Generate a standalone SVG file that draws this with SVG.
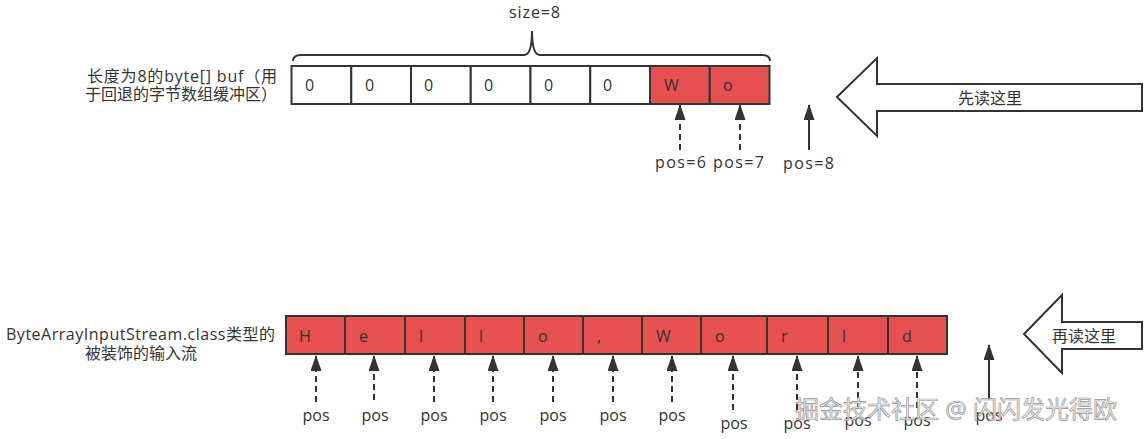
<svg xmlns="http://www.w3.org/2000/svg" width="1147" height="439" viewBox="0 0 1147 439">
<style>
text{font-family:"Open Sans","Noto Sans CJK SC",sans-serif;fill:#333;font-size:16px}
.c{stroke:#333;stroke-width:2;fill:#fff}
.r{stroke:#333;stroke-width:2;fill:#e65050}
.d{stroke:#333;stroke-width:2;stroke-dasharray:6 4;fill:none}
.s{stroke:#333;stroke-width:2;fill:none}
.m{text-anchor:middle}
.big{stroke:#333;stroke-width:2;fill:#fff}
.wm{font-size:24px;fill:#ececec;stroke:#8c8c8c;stroke-width:0.7;opacity:0.9}
</style>
<defs>
<marker id="ah" markerUnits="userSpaceOnUse" markerWidth="16" markerHeight="11" viewBox="0 0 16 11" refX="15" refY="5.5" orient="auto">
<path d="M0,0 L16,5.5 L0,11 z" fill="#333"/>
</marker>
</defs>
<rect width="1147" height="439" fill="#fff"/>

<g id="buf-label">
<text class="m" x="182" y="82" textLength="190" lengthAdjust="spacing">长度为8的byte[] buf（用</text>
<text class="m" x="181" y="100">于回退的字节数组缓冲区）</text>
</g>
<g id="size-brace">
<path class="s" d="M293,61 Q293,55 301,55 L524,55 Q532,55 532,31 Q532,55 540,55 L762,55 Q770,55 770,61" stroke-width="1.6"/>
<text class="m" x="534.5" y="18" textLength="51" lengthAdjust="spacing">size=8</text>
</g>
<g id="buf">
<rect class="c" x="291.5" y="66" width="59.75" height="38"/>
<rect class="c" x="351.25" y="66" width="59.75" height="38"/>
<rect class="c" x="411" y="66" width="59.75" height="38"/>
<rect class="c" x="470.75" y="66" width="59.75" height="38"/>
<rect class="c" x="530.5" y="66" width="59.75" height="38"/>
<rect class="c" x="590.25" y="66" width="59.75" height="38"/>
<rect class="r" x="650" y="66" width="59.75" height="38"/>
<rect class="r" x="709.75" y="66" width="59.75" height="38"/>
<text x="305" y="91">0</text>
<text x="365" y="91">0</text>
<text x="424" y="91">0</text>
<text x="484" y="91">0</text>
<text x="544" y="91">0</text>
<text x="603" y="91">0</text>
<text x="664" y="91">W</text>
<text x="723" y="91">o</text>
</g>
<g id="read-first">
<path class="big" d="M837,97 L877,58 L877,84 L1142,84 L1142,111 L877,111 L877,136 Z"/>
<text class="m" x="990" y="104">先读这里</text>
</g>

<g id="stream-label">
<text class="m" x="140.5" y="340" textLength="269" lengthAdjust="spacing">ByteArrayInputStream.class类型的</text>
<text class="m" x="141" y="359">被装饰的输入流</text>
</g>
<g id="stream">
<rect class="r" x="286" y="316" width="59" height="38"/>
<rect class="r" x="345" y="316" width="60" height="38"/>
<rect class="r" x="405" y="316" width="60" height="38"/>
<rect class="r" x="465" y="316" width="59" height="38"/>
<rect class="r" x="524" y="316" width="59" height="38"/>
<rect class="r" x="583" y="316" width="59" height="38"/>
<rect class="r" x="642" y="316" width="59" height="38"/>
<rect class="r" x="701" y="316" width="66" height="38"/>
<rect class="r" x="767" y="316" width="61" height="38"/>
<rect class="r" x="828" y="316" width="60" height="38"/>
<rect class="r" x="888" y="316" width="59" height="38"/>
<text x="299" y="342">H</text>
<text x="359" y="342">e</text>
<text x="419" y="342">l</text>
<text x="479" y="342">l</text>
<text x="538" y="342">o</text>
<text x="597" y="342">,</text>
<text x="656" y="342">W</text>
<text x="715" y="342">o</text>
<text x="781" y="342">r</text>
<text x="842" y="342">l</text>
<text x="902" y="342">d</text>
</g>
<g id="read-next">
<path class="big" d="M1024,334 L1062,295 L1062,322 L1142,322 L1142,349 L1062,349 L1062,373 Z"/>
<text class="m" x="1084" y="342">再读这里</text>
</g>

<g id="connectors">
<line class="d" x1="680" y1="150" x2="680" y2="105" marker-end="url(#ah)"/>
<line class="d" x1="740" y1="150" x2="740" y2="105" marker-end="url(#ah)"/>
<line class="s" x1="809" y1="150" x2="809" y2="105" marker-end="url(#ah)"/>
<line class="d" x1="316" y1="402" x2="316" y2="356" marker-end="url(#ah)"/>
<line class="d" x1="374" y1="400" x2="374" y2="356" marker-end="url(#ah)"/>
<line class="d" x1="434" y1="402" x2="434" y2="356" marker-end="url(#ah)"/>
<line class="d" x1="493" y1="402" x2="493" y2="356" marker-end="url(#ah)"/>
<line class="d" x1="553" y1="402" x2="553" y2="356" marker-end="url(#ah)"/>
<line class="d" x1="613" y1="402" x2="613" y2="356" marker-end="url(#ah)"/>
<line class="d" x1="672" y1="402" x2="672" y2="356" marker-end="url(#ah)"/>
<line class="d" x1="733" y1="410" x2="733" y2="356" marker-end="url(#ah)"/>
<line class="d" x1="797" y1="410" x2="797" y2="356" marker-end="url(#ah)"/>
<line class="d" x1="858" y1="408" x2="858" y2="356" marker-end="url(#ah)"/>
<line class="d" x1="917" y1="408" x2="917" y2="356" marker-end="url(#ah)"/>
<line class="s" x1="989" y1="400" x2="989" y2="345" marker-end="url(#ah)"/>
</g>
<g id="pos-labels">
<text class="m" x="680.5" y="168" textLength="51" lengthAdjust="spacing">pos=6</text>
<text class="m" x="738.5" y="168" textLength="51" lengthAdjust="spacing">pos=7</text>
<text class="m" x="808.5" y="169" textLength="51" lengthAdjust="spacing">pos=8</text>
<text class="m" x="316" y="421">pos</text>
<text class="m" x="375" y="421">pos</text>
<text class="m" x="434" y="421">pos</text>
<text class="m" x="493" y="421">pos</text>
<text class="m" x="553" y="421">pos</text>
<text class="m" x="613" y="421">pos</text>
<text class="m" x="672" y="421">pos</text>
<text class="m" x="734" y="429">pos</text>
<text class="m" x="797" y="429">pos</text>
<text class="m" x="858" y="426">pos</text>
<text class="m" x="917" y="426">pos</text>
<text class="m" x="989" y="421">pos</text>
</g>
<g id="watermark">
<text class="wm" x="795" y="418">掘金技术社区 @ 闪闪发光得欧</text>
</g>
</svg>
